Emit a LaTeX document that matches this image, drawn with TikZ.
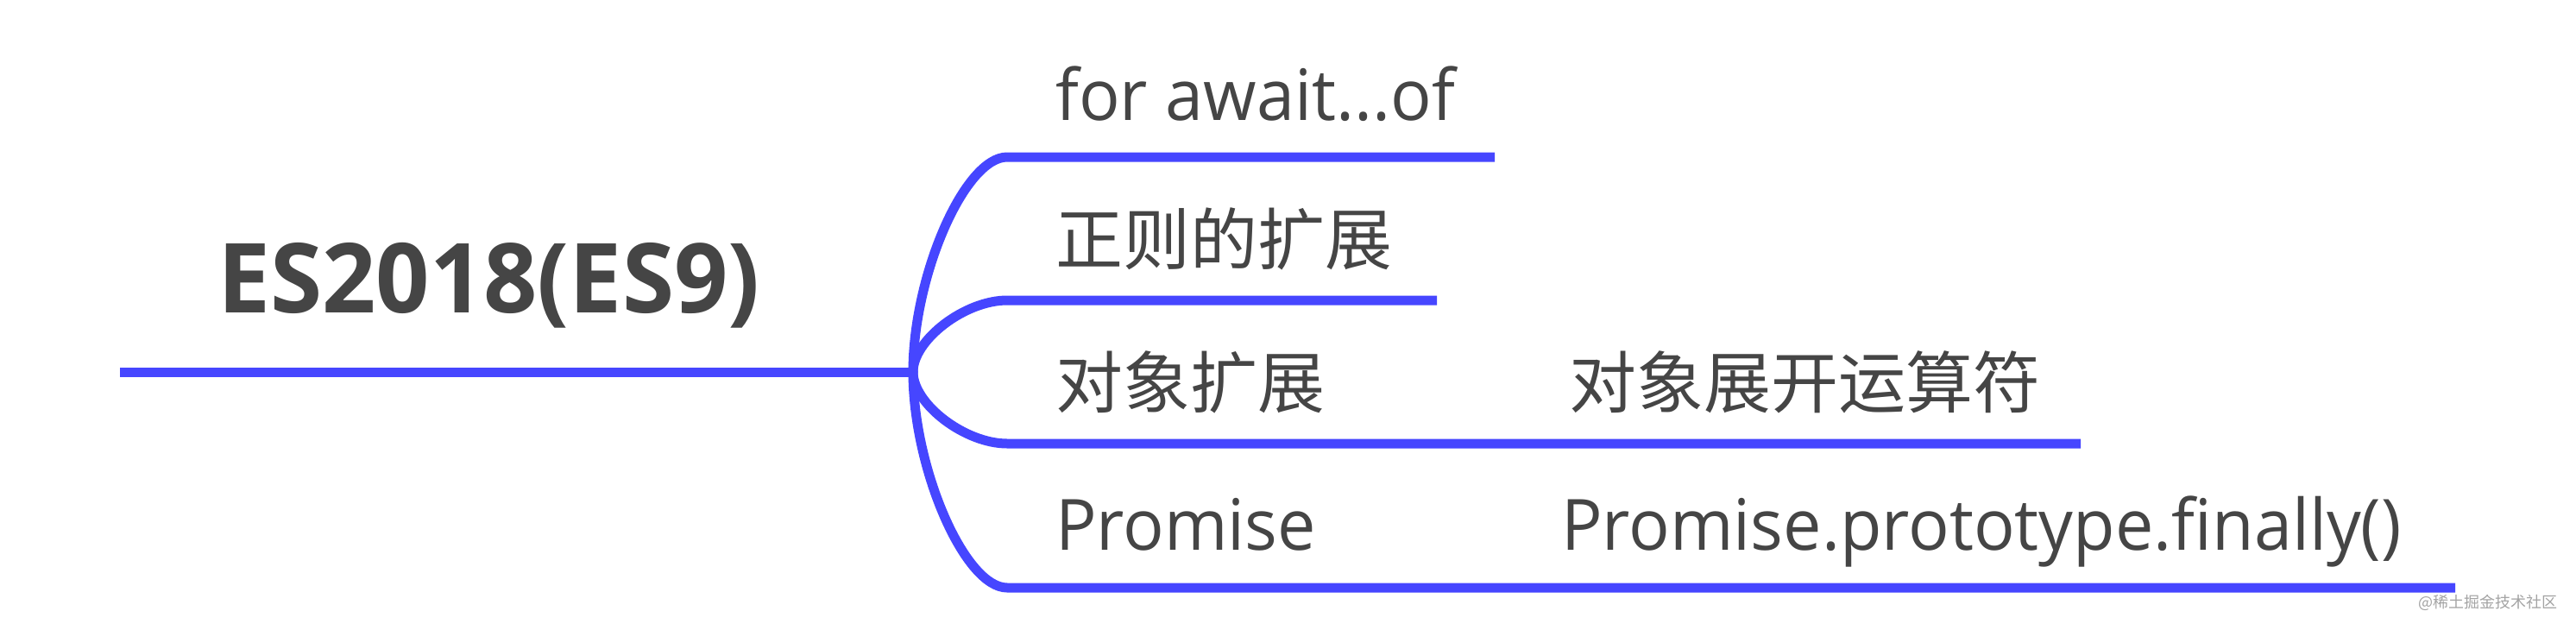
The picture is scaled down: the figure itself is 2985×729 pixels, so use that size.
\documentclass[tikz,border=0pt]{standalone}
\usepackage{fontspec}
\setmainfont{Open Sans}
\newfontfamily\latinnarrow{Open Sans}[FakeStretch=0.965]
\newfontfamily\titlefont{Open Sans}[FakeStretch=0.975]
\newfontfamily\cjk{Noto Sans CJK SC}
\usetikzlibrary{calc}
\definecolor{linec}{HTML}{4646FF}
\definecolor{txtc}{HTML}{454545}
\definecolor{wmc}{HTML}{A3A3A3}
\tikzset{
  branchline/.style={draw=linec, line width=11pt},
  lbl/.style={anchor=base west, inner sep=0pt, text=txtc, font=\latinnarrow\fontsize{82}{82}\selectfont},
  cjklbl/.style={anchor=base west, inner sep=0pt, text=txtc, font=\cjk\fontsize{78}{78}\selectfont},
  rootlbl/.style={anchor=base west, inner sep=0pt, text=txtc, font=\titlefont\bfseries\fontsize{112}{112}\selectfont},
  wmlbl/.style={anchor=base west, inner sep=0pt, text=wmc, font=\cjk\fontsize{18}{18}\selectfont}
}
\begin{document}
\begin{tikzpicture}[x=1pt,y=-1pt]
\useasboundingbox (0,0) rectangle (2985,729);
% coordinates
\coordinate (rs) at (139,431);
\coordinate (j) at (1058,431);
\coordinate (b1s) at (1167,182);
\coordinate (b1e) at (1732,182);
\coordinate (b2s) at (1167,348);
\coordinate (b2e) at (1665,348);
\coordinate (b3s) at (1167,514);
\coordinate (b3e) at (2411,514);
\coordinate (b4s) at (1167,681);
\coordinate (b4e) at (2845,681);
% connectors
\draw[branchline] (rs) -- (j);
\draw[branchline] (j) .. controls ($(j)+(0,-112)$) and ($(b1s)+(-49,0)$) .. (b1s) -- (b1e);
\draw[branchline] (j) .. controls ($(j)+(0,-37)$) and ($(b2s)+(-49,0)$) .. (b2s) -- (b2e);
\draw[branchline] (j) .. controls ($(j)+(0,37)$) and ($(b3s)+(-49,0)$) .. (b3s) -- (b3e);
\draw[branchline] (j) .. controls ($(j)+(0,112)$) and ($(b4s)+(-49,0)$) .. (b4s) -- (b4e);
% labels
\node[rootlbl] (root) at (252,362) {ES2018(ES9)};
\node[lbl] (forawait) at (1223,139) {for await...of};
\node[cjklbl] (regex) at (1223,306) {正则的扩展};
\node[cjklbl] (objext) at (1223,472) {对象扩展};
\node[cjklbl] (objspread) at (1818,472) {对象展开运算符};
\node[lbl] (promise) at (1223,637) {Promise};
\node[lbl] (finally) at (1809,637) {Promise.prototype.finally()};
\node[wmlbl] (wm) at (2802,704) {@稀土掘金技术社区};
\end{tikzpicture}
\end{document}
